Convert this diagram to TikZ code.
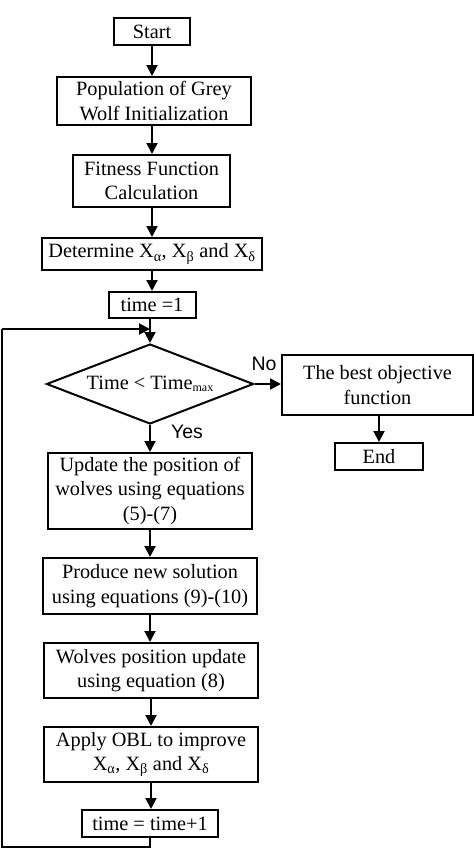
\documentclass[tikz,border=0pt]{standalone}
\usepackage{fontspec}
\setmainfont{Liberation Serif}
\newfontfamily\lblfont{Liberation Sans}
\usetikzlibrary{arrows.meta,shapes.geometric}
\begin{document}
\begin{tikzpicture}[x=1pt,y=-1pt,
  every node/.style={font=\fontsize{20.3}{24.5}\selectfont},
  box/.style={draw,line width=2pt,rectangle,inner sep=0pt,align=center},
  lbl/.style={font=\lblfont\fontsize{19.5}{21}\selectfont,inner sep=0pt},
  arr/.style={line width=2pt,-{Triangle[length=11pt,width=11pt]}},
  ln/.style={line width=2pt}]
\useasboundingbox (0,0) rectangle (474,865);
\node[box,minimum width=76pt,minimum height=27pt] (start) at (152,31.5) {Start};
\node[box,minimum width=194pt,minimum height=48pt] (pop) at (154,101) {Population of Grey\\Wolf Initialization};
\node[box,minimum width=157pt,minimum height=52pt] (fit) at (151.5,181) {Fitness Function\\Calculation};
\node[box,minimum width=220pt,minimum height=32pt] (det) at (152,254) {Determine X\textsubscript{α}, X\textsubscript{β} and X\textsubscript{δ}};
\node[box,minimum width=87pt,minimum height=26pt] (t1) at (152,305) {time =1};
\node[draw,line width=2pt,diamond,aspect=2.6,inner sep=0pt,minimum width=207pt,minimum height=80pt] (dia) at (150,384) {Time < Time\raisebox{-0.25ex}{\fontsize{12}{12}\selectfont max}};
\node[box,minimum width=191pt,minimum height=60pt] (best) at (377.5,385) {The best objective\\function};
\node[box,minimum width=88pt,minimum height=27pt] (end) at (379,456.5) {End};
\node[box,minimum width=204pt,minimum height=76pt] (upd) at (150,491) {Update the position of\\wolves using equations\\(5)-(7)};
\node[box,minimum width=214pt,minimum height=56pt] (prod) at (150,586) {Produce new solution\\using equations (9)-(10)};
\node[box,minimum width=214pt,minimum height=55pt] (wol) at (151,670.5) {Wolves position update\\using equation (8)};
\node[box,minimum width=214pt,minimum height=55pt] (app) at (151,754.5) {Apply OBL to improve\\X\textsubscript{α}, X\textsubscript{β} and X\textsubscript{δ}};
\node[box,minimum width=136pt,minimum height=27pt] (t2) at (150,823.5) {time = time+1};
\node[lbl] (no) at (264,364) {No};
\node[lbl] (yes) at (187,432) {Yes};
\coordinate (j) at (150,329);
\coordinate (c1) at (150,847);
\coordinate (c2) at (1.5,847);
\coordinate (c3) at (1.5,329);
\draw[arr] (start.south) -- (start.south |- pop.north);
\draw[arr] (start.south |- pop.south) -- (start.south |- fit.north);
\draw[arr] (start.south |- fit.south) -- (start.south |- det.north);
\draw[arr] (start.south |- det.south) -- (start.south |- t1.north);
\draw[arr] (t1.south -| dia.north) -- (dia.north);
\draw[arr] (dia.east) -- (dia.east -| best.west);
\draw[arr] (end.north |- best.south) -- (end.north);
\draw[arr] (dia.south) -- (dia.south |- upd.north);
\draw[arr] (upd.south) -- (upd.south |- prod.north);
\draw[arr] (prod.south) -- (prod.south |- wol.north);
\draw[arr] (wol.south) -- (wol.south |- app.north);
\draw[arr] (app.south) -- (app.south |- t2.north);
\draw[ln] (t2.south) -- (c1) -- (c2) -- (c3);
\draw[arr] (c3) -- (j);
\end{tikzpicture}
\end{document}
